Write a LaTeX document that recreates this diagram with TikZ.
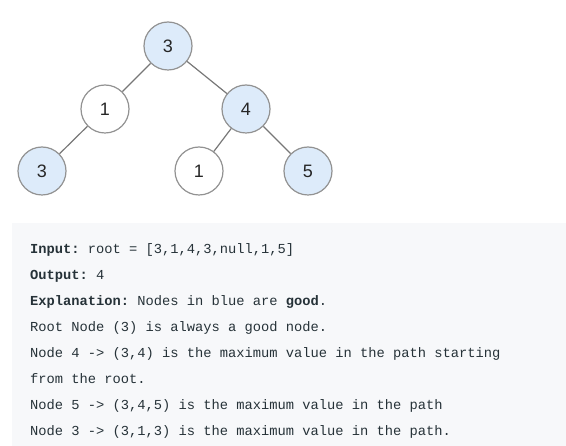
\documentclass[tikz,border=0pt]{standalone}
\usepackage{fontspec}
\setmainfont{Liberation Sans}
\setmonofont{Liberation Mono}
\definecolor{goodfill}{HTML}{DDEBFA}
\definecolor{ringc}{HTML}{929292}
\definecolor{edgec}{HTML}{777777}
\definecolor{boxbg}{HTML}{F7F8FA}
\definecolor{txt}{HTML}{263238}
\begin{document}
\begin{tikzpicture}[x=1pt,y=-1pt,
  tnode/.style={circle,draw=ringc,line width=1.2pt,minimum size=48pt,inner sep=0pt,fill=white,font=\fontsize{18}{18}\selectfont,text=black!85},
  good/.style={tnode,fill=goodfill},
  edge/.style={draw=edgec,line width=1.2pt},
  codeline/.style={anchor=base west,inner sep=0pt,text=txt,font=\ttfamily\fontsize{13.75}{14}\selectfont}]
\useasboundingbox (0,0) rectangle (566,446);
\fill[boxbg] (12,223) rectangle (566,446);
\node[good] (r) at (168,46) {3};
\node[tnode] (a) at (105,109) {1};
\node[good] (b) at (246,109) {4};
\node[good] (c) at (42,171) {3};
\node[tnode] (d) at (199,171) {1};
\node[good] (e) at (308,171) {5};
\draw[edge] (r) -- (a);
\draw[edge] (r) -- (b);
\draw[edge] (a) -- (c);
\draw[edge] (b) -- (d);
\draw[edge] (b) -- (e);
\node[codeline] (l1) at (30,254) {\textbf{Input:} root = [3,1,4,3,null,1,5]};
\node[codeline] (l2) at (30,280) {\textbf{Output:} 4};
\node[codeline] (l3) at (30,306) {\textbf{Explanation:} Nodes in blue are \textbf{good}.};
\node[codeline] (l4) at (30,332) {Root Node (3) is always a good node.};
\node[codeline] (l5) at (30,358) {Node 4 -> (3,4) is the maximum value in the path starting};
\node[codeline] (l6) at (30,384) {from the root.};
\node[codeline] (l7) at (30,410) {Node 5 -> (3,4,5) is the maximum value in the path};
\node[codeline] (l8) at (30,436) {Node 3 -> (3,1,3) is the maximum value in the path.};
\end{tikzpicture}
\end{document}
